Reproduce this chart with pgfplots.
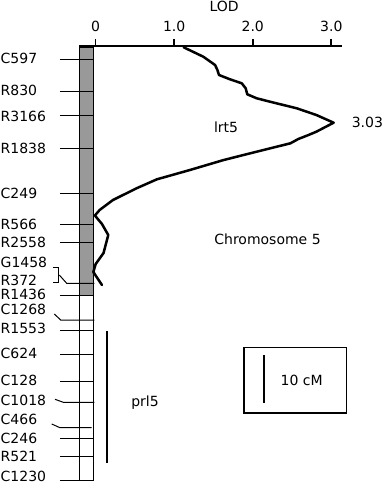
\documentclass[border=0pt]{standalone}
\usepackage{fontspec}
\setmainfont{DejaVu Sans}
\usepackage{pgfplots}
\usepackage{pgfplotstable}
\pgfplotsset{compat=1.18}
\definecolor{chrom}{RGB}{153,153,153}

% LOD profile: LOD score vs. position along chromosome (map units, top = 46)
\pgfplotstableread{
lod y
1.12 47.3
1.37 56.7
1.52 65
1.55 70
1.57 75
1.71 79.3
1.86 83.3
1.91 88.3
1.93 94.3
2.05 98.3
2.22 101.7
2.56 108.3
2.81 115
3.03 122.7
2.81 131.7
2.71 135
2.58 139
2.48 143.3
2.05 151.7
1.63 160
1.20 170
0.78 179.3
0.52 188.3
0.22 200
0.05 210
-0.01 215.5
0.08 224
0.16 235
0.10 253
0.00 264
-0.03 272
0.08 285
}\lodcurve

\begin{document}
\fontsize{14}{16}\selectfont
\begin{tikzpicture}[x=1pt,y=1pt,font=\fontsize{14}{16}\selectfont]
\useasboundingbox (0,0) rectangle (386,484);
\begin{axis}[
  at={(79.2pt,3pt)}, anchor=south west,
  scale only axis, width=263.08pt, height=435pt,
  xmin=-0.21, xmax=3.14, ymin=46, ymax=481, y dir=reverse,
  axis x line*=top, axis y line=none,
  xtick={0,1,2,3}, xticklabels={},
  tick align=outside, major tick length=7pt,
  axis line style={line width=1.6pt},
  every tick/.style={line width=1.6pt, black},
  clip=false,
  nodes={font=\fontsize{14}{16}\selectfont, inner sep=0pt},
]
% chromosome
\fill[chrom] (axis cs:-0.2127,47) rectangle (axis cs:-0.0344,295);
\draw[line width=0.8pt] (axis cs:-0.2127,47) rectangle (axis cs:-0.0344,480);
% straight marker lines
\pgfplotsinvokeforeach{59.3,92,116,149,193.7,224.7,242.3,295,330,354,381.3,438.3,456.3,480}{
  \draw[line width=1pt] (axis cs:-0.4546,#1) -- (axis cs:-0.0178,#1);
}
% bent marker lines
\draw[line width=1pt] (axis cs:-0.5476,267.7) -- (axis cs:-0.4763,267.7) -- (axis cs:-0.4763,282.3) -- (axis cs:-0.5476,282.3);
\draw[line width=1pt] (axis cs:-0.4635,275) -- (axis cs:-0.3693,283.3) -- (axis cs:-0.0178,283.3);
\draw[line width=1pt] (axis cs:-0.5272,314) -- (axis cs:-0.4457,320) -- (axis cs:-0.0178,320);
\draw[line width=1pt] (axis cs:-0.5183,399.3) -- (axis cs:-0.4126,402.3) -- (axis cs:-0.0178,402.3);
\draw[line width=1pt] (axis cs:-0.5603,424) -- (axis cs:-0.4546,427.7) -- (axis cs:-0.0509,427.7);
% marker names
\node[anchor=west] at (axis cs:-1.2123,58) {C597};
\node[anchor=west] at (axis cs:-1.2123,90) {R830};
\node[anchor=west] at (axis cs:-1.2123,116) {R3166};
\node[anchor=west] at (axis cs:-1.2123,148) {R1838};
\node[anchor=west] at (axis cs:-1.2123,193) {C249};
\node[anchor=west] at (axis cs:-1.2123,224) {R566};
\node[anchor=west] at (axis cs:-1.2123,242.5) {R2558};
\node[anchor=west] at (axis cs:-1.2123,262.7) {G1458};
\node[anchor=west] at (axis cs:-1.2123,280.5) {R372};
\node[anchor=west] at (axis cs:-1.2123,294) {R1436};
\node[anchor=west] at (axis cs:-1.2123,309) {C1268};
\node[anchor=west] at (axis cs:-1.2123,328.5) {R1553};
\node[anchor=west] at (axis cs:-1.2123,353.5) {C624};
\node[anchor=west] at (axis cs:-1.2123,380) {C128};
\node[anchor=west] at (axis cs:-1.2123,400) {C1018};
\node[anchor=west] at (axis cs:-1.2123,419.5) {C466};
\node[anchor=west] at (axis cs:-1.2123,438.5) {C246};
\node[anchor=west] at (axis cs:-1.2123,456) {R521};
\node[anchor=west] at (axis cs:-1.2123,476.5) {C1230};
% LOD axis labels
\node[anchor=base] at (axis cs:0,32) {0};
\node[anchor=base] at (axis cs:1,32) {1.0};
\node[anchor=base] at (axis cs:2,32) {2.0};
\node[anchor=base] at (axis cs:3,32) {3.0};
\node[anchor=base] at (axis cs:1.636,12) {LOD};
% LOD curve
\addplot[black, line width=2.5pt, line join=round, line cap=round] table[x=lod,y=y] {\lodcurve};
% annotations
\node[anchor=base] at (axis cs:1.66,133) {lrt5};
\node[anchor=base] at (axis cs:3.46,128) {3.03};
\node[anchor=base] at (axis cs:2.188,244) {Chromosome 5};
\draw[line width=2.2pt] (axis cs:0.14,331) -- (axis cs:0.14,462.7);
\node[anchor=base] at (axis cs:0.628,406) {prl5};
% scale box
\draw[line width=1.6pt] (axis cs:1.892,347.3) rectangle (axis cs:3.196,412.7);
\draw[line width=2pt] (axis cs:2.147,355) -- (axis cs:2.147,402.7);
\node[anchor=base] at (axis cs:2.623,385) {10 cM};
\end{axis}
\end{tikzpicture}
\end{document}
